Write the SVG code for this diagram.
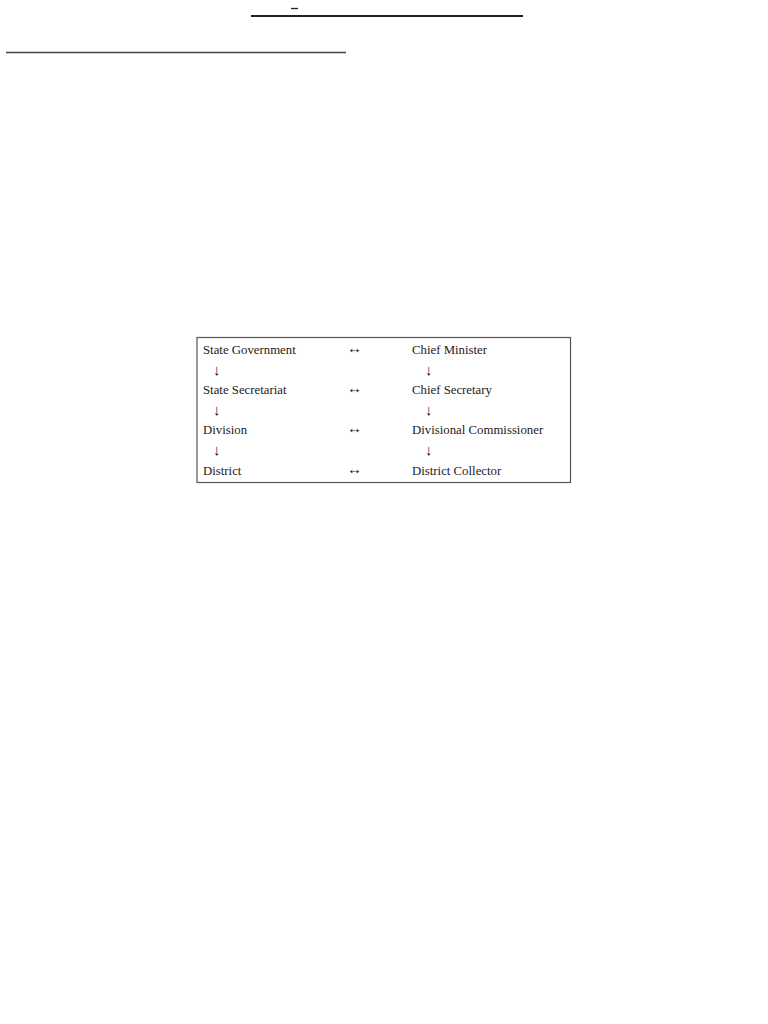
<svg xmlns="http://www.w3.org/2000/svg" width="768" height="1024" viewBox="0 0 768 1024">
<style>
.t{font-family:"Liberation Serif","Times New Roman",serif;font-size:12.8px;fill:#222}
.a{font-family:"Liberation Serif","Times New Roman",serif;font-size:15px;fill:#222}
</style>
<rect width="768" height="1024" fill="#fff"/>
<line x1="251" y1="16" x2="523" y2="16" stroke="#222" stroke-width="2.2"/>
<line x1="291" y1="8.5" x2="298" y2="8.5" stroke="#222" stroke-width="1.3"/>
<line x1="6" y1="52.5" x2="346" y2="52.5" stroke="#444" stroke-width="1.6"/>
<rect id="frame" x="197" y="337.5" width="373.5" height="145" fill="none" stroke="#555" stroke-width="1.2"/>
<g id="n1"><text class="t" x="203" y="354">State Government</text></g>
<g id="n2"><text class="t" x="203" y="394">State Secretariat</text></g>
<g id="n3"><text class="t" x="203" y="434">Division</text></g>
<g id="n4"><text class="t" x="203" y="475">District</text></g>
<g id="n5"><text class="t" x="412" y="354">Chief Minister</text></g>
<g id="n6"><text class="t" x="412" y="394">Chief Secretary</text></g>
<g id="n7"><text class="t" x="412" y="434">Divisional Commissioner</text></g>
<g id="n8"><text class="t" x="412" y="475">District Collector</text></g>
<g id="connectors">
<text class="a" x="347" y="353">↔</text>
<text class="a" x="347" y="393">↔</text>
<text class="a" x="347" y="433">↔</text>
<text class="a" x="347" y="474">↔</text>
<text class="a" x="213" y="375">↓</text>
<text class="a" x="213" y="415">↓</text>
<text class="a" x="213" y="455">↓</text>
<text class="a" x="425" y="375">↓</text>
<text class="a" x="425" y="415">↓</text>
<text class="a" x="425" y="455">↓</text>
</g>
</svg>
